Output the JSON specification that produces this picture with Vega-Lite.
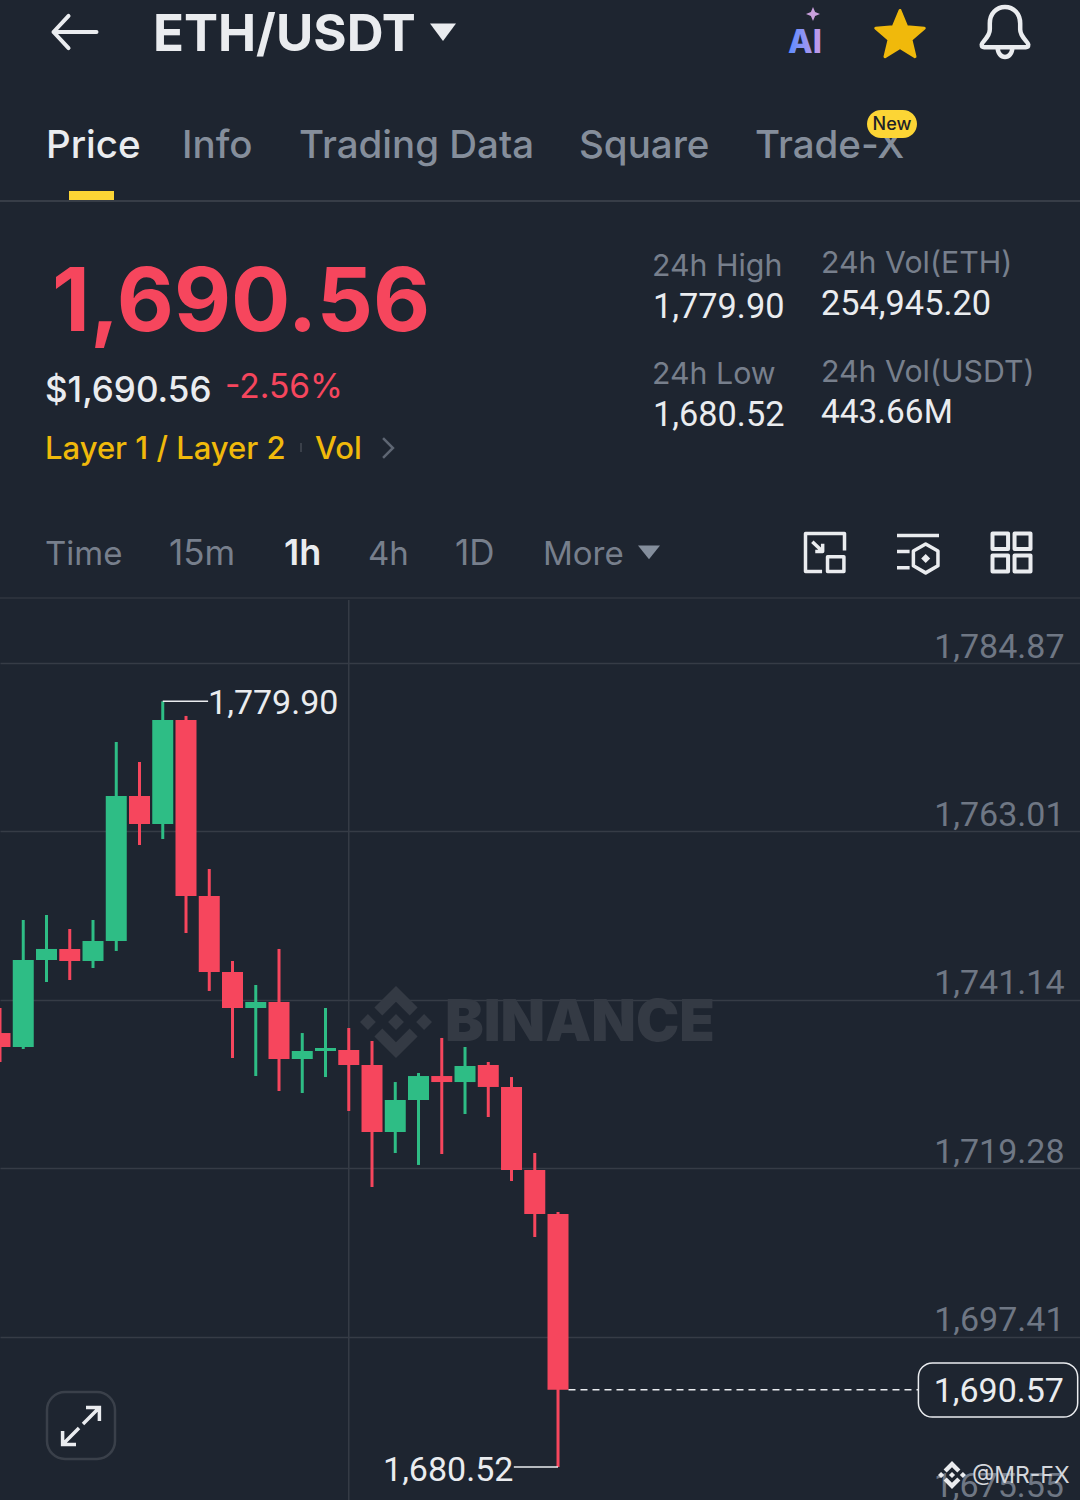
{
  "$schema": "https://vega.github.io/schema/vega-lite/v6.json",
  "width": 1080,
  "height": 1500,
  "padding": 0,
  "autosize": {"type": "none"},
  "background": "#1e2530",
  "datasets": {
    "candles": [
      {"i": 0, "open": 1736.85, "high": 1740.10, "low": 1733.09, "close": 1735.04, "side": "down"},
      {"i": 1, "open": 1735.04, "high": 1751.52, "low": 1734.78, "close": 1746.33, "side": "up"},
      {"i": 2, "open": 1746.33, "high": 1752.17, "low": 1743.47, "close": 1747.76, "side": "up"},
      {"i": 3, "open": 1747.76, "high": 1750.35, "low": 1743.73, "close": 1746.20, "side": "down"},
      {"i": 4, "open": 1746.20, "high": 1751.52, "low": 1745.29, "close": 1748.79, "side": "up"},
      {"i": 5, "open": 1748.79, "high": 1774.62, "low": 1747.50, "close": 1767.61, "side": "up"},
      {"i": 6, "open": 1767.61, "high": 1772.02, "low": 1761.25, "close": 1763.98, "side": "down"},
      {"i": 7, "open": 1763.98, "high": 1779.90, "low": 1762.03, "close": 1777.47, "side": "up"},
      {"i": 8, "open": 1777.47, "high": 1778.00, "low": 1749.83, "close": 1754.63, "side": "down"},
      {"i": 9, "open": 1754.63, "high": 1758.14, "low": 1742.31, "close": 1744.77, "side": "down"},
      {"i": 10, "open": 1744.77, "high": 1746.20, "low": 1733.61, "close": 1740.10, "side": "down"},
      {"i": 11, "open": 1740.10, "high": 1743.08, "low": 1731.27, "close": 1740.88, "side": "up"},
      {"i": 12, "open": 1740.88, "high": 1747.76, "low": 1729.33, "close": 1733.48, "side": "down"},
      {"i": 13, "open": 1733.48, "high": 1736.85, "low": 1729.07, "close": 1734.52, "side": "up"},
      {"i": 14, "open": 1734.52, "high": 1740.10, "low": 1731.14, "close": 1734.91, "side": "up"},
      {"i": 15, "open": 1734.65, "high": 1737.50, "low": 1726.73, "close": 1732.70, "side": "down"},
      {"i": 16, "open": 1732.70, "high": 1735.82, "low": 1716.87, "close": 1724.01, "side": "down"},
      {"i": 17, "open": 1724.01, "high": 1730.49, "low": 1721.28, "close": 1728.16, "side": "up"},
      {"i": 18, "open": 1728.16, "high": 1731.66, "low": 1719.73, "close": 1731.27, "side": "up"},
      {"i": 19, "open": 1731.27, "high": 1736.21, "low": 1721.15, "close": 1730.49, "side": "down"},
      {"i": 20, "open": 1730.49, "high": 1735.04, "low": 1726.34, "close": 1732.57, "side": "up"},
      {"i": 21, "open": 1732.70, "high": 1733.09, "low": 1725.95, "close": 1729.85, "side": "down"},
      {"i": 22, "open": 1729.85, "high": 1731.14, "low": 1717.65, "close": 1719.08, "side": "down"},
      {"i": 23, "open": 1719.08, "high": 1721.28, "low": 1710.38, "close": 1713.37, "side": "down"},
      {"i": 24, "open": 1713.37, "high": 1713.63, "low": 1680.52, "close": 1690.56, "side": "down"}
    ]
  },
  "data": {"name": "candles"},
  "layer": [
    {
      "data": {"values": [{"label": "BINANCE"}]},
      "mark": {"type": "text", "style": "wm", "fill": "#343a44", "x": 445, "y": 1041},
      "encoding": {"text": {"field": "label"}}
    },
    {
      "data": {"values": [{"icon": "logo"}]},
      "mark": {"type": "point", "x": 396, "y": 1022, "size": 5184, "filled": true, "fill": "#343a44", "opacity": 1, "strokeWidth": 0, "shape": "M0 -.22L.22 0L0 .22L-.22 0ZM-.78 -.22L-.56 0L-.78 .22L-1 0ZM.78 -.22L1 0L.78 .22L.56 0ZM0 -1L.6 -.4L.38 -.18L0 -.56L-.38 -.18L-.6 -.4ZM0 1L.6 .4L.38 .18L0 .56L-.38 .18L-.6 .4Z"}
    },
    {
      "data": {"values": [{"i": 15}]},
      "mark": {"type": "rule", "color": "#363c46", "strokeWidth": 1.5},
      "encoding": {
        "x": {
          "field": "i",
          "type": "quantitative",
          "scale": {"domain": [0, 46.45], "nice": false, "zero": false, "padding": 0},
          "axis": null
        },
        "y": {"value": 600},
        "y2": {"value": 1500}
      }
    },
    {
      "mark": {"type": "rule", "strokeWidth": 3, "clip": true},
      "encoding": {
        "x": {"field": "i", "type": "quantitative", "axis": null},
        "y": {
          "field": "high",
          "type": "quantitative",
          "scale": {"domain": [1676.25, 1870.91], "nice": false, "zero": false},
          "axis": {
            "orient": "right",
            "title": null,
            "values": [1784.87, 1763.01, 1741.14, 1719.28, 1697.41],
            "format": ",.2f",
            "grid": true,
            "gridColor": "#363c46",
            "gridWidth": 1.5,
            "domain": false,
            "ticks": false,
            "labelAlign": "right",
            "labelBaseline": "middle",
            "labelPadding": -16,
            "labelOffset": -16,
            "labelFont": "Roboto",
            "labelFontSize": 34,
            "labelColor": "#6f7784",
            "labelOverlap": false,
            "labelFlush": false
          }
        },
        "y2": {"field": "low"},
        "color": {
          "field": "side",
          "type": "nominal",
          "scale": {"domain": ["up", "down"], "range": ["#2ebd85", "#f6465d"]},
          "legend": null
        }
      }
    },
    {
      "mark": {"type": "bar", "size": 21, "clip": true},
      "encoding": {
        "x": {"field": "i", "type": "quantitative", "axis": null},
        "y": {"field": "open", "type": "quantitative"},
        "y2": {"field": "close"},
        "color": {"field": "side", "type": "nominal", "legend": null}
      }
    },
    {
      "data": {"values": [{"price": 1779.90, "from": 7, "to": 8.95}, {"price": 1680.52, "from": 22.1, "to": 24}]},
      "mark": {"type": "rule", "color": "#eaecef", "strokeWidth": 1.5},
      "encoding": {
        "x": {"field": "from", "type": "quantitative", "axis": null},
        "x2": {"field": "to"},
        "y": {"field": "price", "type": "quantitative"}
      }
    },
    {
      "data": {"values": [{"price": 1779.90, "at": 8.95, "label": "1,779.90"}]},
      "mark": {"type": "text", "style": "note", "fill": "#eaecef", "align": "left", "dy": 3},
      "encoding": {
        "x": {"field": "at", "type": "quantitative", "axis": null},
        "y": {"field": "price", "type": "quantitative"},
        "text": {"field": "label"}
      }
    },
    {
      "data": {"values": [{"price": 1680.52, "at": 22.08, "label": "1,680.52"}]},
      "mark": {"type": "text", "style": "note", "fill": "#eaecef", "align": "right", "dy": 4},
      "encoding": {
        "x": {"field": "at", "type": "quantitative", "axis": null},
        "y": {"field": "price", "type": "quantitative"},
        "text": {"field": "label"}
      }
    },
    {
      "data": {"values": [{"price": 1690.56, "from": 24.45, "to": 39.5}]},
      "mark": {"type": "rule", "color": "#eaecef", "strokeWidth": 1.5, "strokeDash": [7, 5]},
      "encoding": {
        "x": {"field": "from", "type": "quantitative", "axis": null},
        "x2": {"field": "to"},
        "y": {"field": "price", "type": "quantitative"}
      }
    },
    {
      "data": {"values": [{"top": 1694.03, "bottom": 1687.02, "from": 39.5, "to": 46.35}]},
      "mark": {"type": "rect", "fill": "#1e2530", "stroke": "#eaecef", "strokeWidth": 1.5, "cornerRadius": 14},
      "encoding": {
        "x": {"field": "from", "type": "quantitative", "axis": null},
        "x2": {"field": "to"},
        "y": {"field": "top", "type": "quantitative"},
        "y2": {"field": "bottom"}
      }
    },
    {
      "data": {"values": [{"price": 1690.57, "at": 45.76, "label": "1,690.57"}]},
      "mark": {"type": "text", "style": "note", "fill": "#eaecef", "align": "right", "dy": 2},
      "encoding": {
        "x": {"field": "at", "type": "quantitative", "axis": null},
        "y": {"field": "price", "type": "quantitative"},
        "text": {"field": "label"}
      }
    },
    {
      "data": {"values": [{"price": 1675.55, "at": 45.76, "label": "1,675.55"}]},
      "mark": {"type": "text", "style": "note", "fill": "#6f7784", "align": "right", "dy": -18},
      "encoding": {
        "x": {"field": "at", "type": "quantitative", "axis": null},
        "y": {"field": "price", "type": "quantitative"},
        "text": {"field": "label"}
      }
    },
    {
      "data": {"values": [{"icon": "logo small"}]},
      "mark": {"type": "point", "x": 952, "y": 1475, "size": 784, "filled": true, "fill": "#eaecef", "opacity": 1, "strokeWidth": 0, "shape": "M0 -.22L.22 0L0 .22L-.22 0ZM-.78 -.22L-.56 0L-.78 .22L-1 0ZM.78 -.22L1 0L.78 .22L.56 0ZM0 -1L.6 -.4L.38 -.18L0 -.56L-.38 -.18L-.6 -.4ZM0 1L.6 .4L.38 .18L0 .56L-.38 .18L-.6 .4Z"}
    },
    {
      "data": {"values": [{"label": "@MR-FX"}]},
      "mark": {"type": "text", "font": "Inter", "fontSize": 23, "fill": "#d4d7dc", "align": "left", "baseline": "alphabetic", "x": 972, "y": 1483},
      "encoding": {"text": {"field": "label"}}
    },
    {
      "data": {"values": [{"icon": "back"}]},
      "mark": {"type": "point", "x": 75, "y": 32, "size": 1849, "filled": false, "stroke": "#eaecef", "strokeWidth": 4, "strokeCap": "round", "strokeJoin": "round", "opacity": 1, "shape": "M1 0H-1M-.3 -.75L-1 0L-.3 .75"}
    },
    {
      "data": {"values": [{"label": "ETH/USDT"}]},
      "mark": {"type": "text", "font": "Inter", "fontSize": 51, "fontWeight": 700, "fill": "#eaecef", "align": "left", "baseline": "alphabetic", "x": 153, "y": 51},
      "encoding": {"text": {"field": "label"}}
    },
    {
      "data": {"values": [{"icon": "caret"}]},
      "mark": {"type": "point", "x": 443, "y": 32, "size": 676, "filled": true, "fill": "#eaecef", "opacity": 1, "strokeWidth": 0, "shape": "M-1 -.65H1L0 .7Z"}
    },
    {
      "data": {"values": [{"label": "AI"}]},
      "mark": {"type": "text", "font": "Inter", "fontSize": 32, "fontWeight": 800, "align": "left", "baseline": "alphabetic", "x": 788, "y": 53, "fill": {"gradient": "linear", "x1": 0, "x2": 1, "y1": 0, "y2": 0, "stops": [{"offset": 0, "color": "#5b8cff"}, {"offset": 1, "color": "#c79be8"}]}},
      "encoding": {"text": {"field": "label"}}
    },
    {
      "data": {"values": [{"icon": "sparkle"}]},
      "mark": {"type": "point", "x": 813, "y": 14, "size": 196, "filled": true, "fill": "#c9a0dc", "opacity": 1, "strokeWidth": 0, "shape": "M0 -1L.3 -.3L1 0L.3 .3L0 1L-.3 .3L-1 0L-.3 -.3Z"}
    },
    {
      "data": {"values": [{"icon": "star"}]},
      "mark": {"type": "point", "x": 900, "y": 36, "size": 2601, "filled": true, "fill": "#f0b90b", "stroke": "#f0b90b", "strokeWidth": 3, "strokeJoin": "round", "opacity": 1, "shape": "M0 -1L.2645 -.364L.951 -.309L.428 .139L.588 .809L0 .45L-.588 .809L-.428 .139L-.951 -.309L-.2645 -.364Z"}
    },
    {
      "data": {"values": [{"icon": "bell"}]},
      "mark": {"type": "point", "x": 1005, "y": 32, "size": 2401, "filled": false, "stroke": "#eaecef", "strokeWidth": 4.5, "strokeJoin": "round", "opacity": 1, "shape": "M-.95 .5C-.95 .42 -.62 .2 -.62 -.1V-.35C-.62 -.75 -.35 -1.02 0 -1.02C.35 -1.02 .62 -.75 .62 -.35V-.1C.62 .2 .95 .42 .95 .5C.95 .6 .9 .62 .85 .62H-.85C-.9 .62 -.95 .6 -.95 .5ZM-.3 .62C-.3 .88 -.15 1.02 0 1.02C.15 1.02 .3 .88 .3 .62"}
    },
    {
      "data": {"values": [{"label": "Price"}]},
      "mark": {"type": "text", "style": "tab", "x": 46, "y": 158, "fill": "#eaecef"},
      "encoding": {"text": {"field": "label"}}
    },
    {
      "data": {"values": [{"label": "Info"}]},
      "mark": {"type": "text", "style": "tab", "fill": "#858e9b", "x": 182, "y": 158},
      "encoding": {"text": {"field": "label"}}
    },
    {
      "data": {"values": [{"label": "Trading Data"}]},
      "mark": {"type": "text", "style": "tab", "fill": "#858e9b", "x": 299, "y": 158},
      "encoding": {"text": {"field": "label"}}
    },
    {
      "data": {"values": [{"label": "Square"}]},
      "mark": {"type": "text", "style": "tab", "fill": "#858e9b", "x": 579, "y": 158},
      "encoding": {"text": {"field": "label"}}
    },
    {
      "data": {"values": [{"label": "Trade-X"}]},
      "mark": {"type": "text", "style": "tab", "fill": "#858e9b", "x": 755, "y": 158},
      "encoding": {"text": {"field": "label"}}
    },
    {
      "data": {"values": [{"shape": "badge"}]},
      "mark": {"type": "rect", "fill": "#fcd535", "cornerRadius": 14},
      "encoding": {"x": {"value": 867}, "x2": {"value": 917}, "y": {"value": 110}, "y2": {"value": 138}}
    },
    {
      "data": {"values": [{"label": "New"}]},
      "mark": {"type": "text", "font": "Inter", "fontSize": 18, "fontWeight": 500, "fill": "#1e2329", "align": "center", "baseline": "middle", "x": 892, "y": 125},
      "encoding": {"text": {"field": "label"}}
    },
    {
      "data": {"values": [{"shape": "tab marker"}]},
      "mark": {"type": "rect", "fill": "#fcd535"},
      "encoding": {"x": {"value": 69}, "x2": {"value": 114}, "y": {"value": 191}, "y2": {"value": 200}}
    },
    {
      "data": {"values": [{"shape": "divider"}]},
      "mark": {"type": "rule", "color": "#373d47", "strokeWidth": 2},
      "encoding": {"x": {"value": 0}, "x2": {"value": 1080}, "y": {"value": 201}}
    },
    {
      "data": {"values": [{"label": "1,690.56"}]},
      "mark": {"type": "text", "font": "Inter", "fontSize": 88, "fontWeight": 700, "fill": "#f6465d", "align": "left", "baseline": "alphabetic", "x": 52, "y": 331},
      "encoding": {"text": {"field": "label"}}
    },
    {
      "data": {"values": [{"label": "$1,690.56"}]},
      "mark": {"type": "text", "font": "Inter", "fontSize": 35, "fontWeight": 500, "fill": "#eaecef", "align": "left", "baseline": "alphabetic", "x": 45, "y": 402},
      "encoding": {"text": {"field": "label"}}
    },
    {
      "data": {"values": [{"label": "-2.56%"}]},
      "mark": {"type": "text", "font": "Inter", "fontSize": 33.5, "fill": "#f6465d", "align": "left", "baseline": "alphabetic", "x": 225, "y": 398},
      "encoding": {"text": {"field": "label"}}
    },
    {
      "data": {"values": [{"label": "Layer 1 / Layer 2"}]},
      "mark": {"type": "text", "style": "tag", "fill": "#f0b90b", "x": 45, "y": 459},
      "encoding": {"text": {"field": "label"}}
    },
    {
      "data": {"values": [{"label": "Vol"}]},
      "mark": {"type": "text", "style": "tag", "fill": "#f0b90b", "x": 315, "y": 459},
      "encoding": {"text": {"field": "label"}}
    },
    {
      "data": {"values": [{"shape": "tag separator"}]},
      "mark": {"type": "rule", "color": "#3a404a", "strokeWidth": 2},
      "encoding": {"x": {"value": 301}, "y": {"value": 443}, "y2": {"value": 452}}
    },
    {
      "data": {"values": [{"icon": "chevron"}]},
      "mark": {"type": "point", "x": 388, "y": 448, "size": 484, "filled": false, "stroke": "#5e6673", "strokeWidth": 2.5, "opacity": 1, "shape": "M-.45 -.9L.45 0L-.45 .9"}
    },
    {
      "data": {"values": [{"label": "24h High"}]},
      "mark": {"type": "text", "style": "statLabel", "fill": "#777f8c", "x": 652, "y": 276},
      "encoding": {"text": {"field": "label"}}
    },
    {
      "data": {"values": [{"label": "1,779.90"}]},
      "mark": {"type": "text", "style": "statValue", "fill": "#eaecef", "x": 653, "y": 318},
      "encoding": {"text": {"field": "label"}}
    },
    {
      "data": {"values": [{"label": "24h Low"}]},
      "mark": {"type": "text", "style": "statLabel", "fill": "#777f8c", "x": 652, "y": 384},
      "encoding": {"text": {"field": "label"}}
    },
    {
      "data": {"values": [{"label": "1,680.52"}]},
      "mark": {"type": "text", "style": "statValue", "fill": "#eaecef", "x": 653, "y": 426},
      "encoding": {"text": {"field": "label"}}
    },
    {
      "data": {"values": [{"label": "24h Vol(ETH)"}]},
      "mark": {"type": "text", "style": "statLabel", "fill": "#777f8c", "x": 821, "y": 273},
      "encoding": {"text": {"field": "label"}}
    },
    {
      "data": {"values": [{"label": "254,945.20"}]},
      "mark": {"type": "text", "style": "statValue", "fill": "#eaecef", "x": 821, "y": 315},
      "encoding": {"text": {"field": "label"}}
    },
    {
      "data": {"values": [{"label": "24h Vol(USDT)"}]},
      "mark": {"type": "text", "style": "statLabel", "fill": "#777f8c", "x": 821, "y": 382},
      "encoding": {"text": {"field": "label"}}
    },
    {
      "data": {"values": [{"label": "443.66M"}]},
      "mark": {"type": "text", "style": "statValue", "fill": "#eaecef", "fontSize": 33.4, "x": 821, "y": 423},
      "encoding": {"text": {"field": "label"}}
    },
    {
      "data": {"values": [{"label": "Time"}]},
      "mark": {"type": "text", "style": "interval", "fill": "#777f8c", "x": 45, "y": 565},
      "encoding": {"text": {"field": "label"}}
    },
    {
      "data": {"values": [{"label": "15m"}]},
      "mark": {"type": "text", "style": "interval", "fill": "#777f8c", "fontSize": 35, "x": 169, "y": 565},
      "encoding": {"text": {"field": "label"}}
    },
    {
      "data": {"values": [{"label": "1h"}]},
      "mark": {"type": "text", "style": "interval", "x": 284, "y": 565, "fill": "#eaecef", "fontSize": 36, "fontWeight": 600},
      "encoding": {"text": {"field": "label"}}
    },
    {
      "data": {"values": [{"label": "4h"}]},
      "mark": {"type": "text", "style": "interval", "fill": "#777f8c", "x": 368, "y": 565},
      "encoding": {"text": {"field": "label"}}
    },
    {
      "data": {"values": [{"label": "1D"}]},
      "mark": {"type": "text", "style": "interval", "fill": "#777f8c", "fontSize": 35, "x": 455, "y": 565},
      "encoding": {"text": {"field": "label"}}
    },
    {
      "data": {"values": [{"label": "More"}]},
      "mark": {"type": "text", "style": "interval", "fill": "#777f8c", "x": 543, "y": 565},
      "encoding": {"text": {"field": "label"}}
    },
    {
      "data": {"values": [{"icon": "more caret"}]},
      "mark": {"type": "point", "x": 649, "y": 552, "size": 484, "filled": true, "fill": "#848e9c", "opacity": 1, "strokeWidth": 0, "shape": "M-1 -.6H1L0 .65Z"}
    },
    {
      "data": {"values": [{"icon": "fit"}]},
      "mark": {"type": "point", "x": 825, "y": 552.5, "size": 1521, "filled": false, "stroke": "#eaecef", "strokeWidth": 3.5, "strokeJoin": "round", "opacity": 1, "shape": "M-.15 .97H-1V-.97H1V-.1M.13 .22H.97V.97H.13ZM-.65 -.55L-.12 -.05M-.5 -.05H-.12V-.45"}
    },
    {
      "data": {"values": [{"icon": "indicators"}]},
      "mark": {"type": "point", "x": 918, "y": 552.5, "size": 1764, "filled": false, "stroke": "#eaecef", "strokeWidth": 3.5, "strokeJoin": "round", "opacity": 1, "shape": "M-1 -.81H1M-1 -.05H-.4M-1 .73H-.4M.365 -.4L.95 -.07V.63L.365 .97L-.22 .63V-.07Z"}
    },
    {
      "data": {"values": [{"icon": "indicators dot"}]},
      "mark": {"type": "point", "x": 925.7, "y": 558.5, "size": 81, "filled": true, "fill": "#eaecef", "opacity": 1, "strokeWidth": 0, "shape": "diamond"}
    },
    {
      "data": {"values": [{"icon": "grid"}]},
      "mark": {"type": "point", "x": 1011.5, "y": 552.5, "size": 1444, "filled": false, "stroke": "#eaecef", "strokeWidth": 4, "strokeJoin": "round", "opacity": 1, "shape": "M-1 -1H-.18V-.18H-1ZM.16 -1H1V-.18H.16ZM-1 .16H-.18V1H-1ZM.16 .16H1V1H.16Z"}
    },
    {
      "data": {"values": [{"shape": "divider"}]},
      "mark": {"type": "rule", "color": "#2b313b", "strokeWidth": 2},
      "encoding": {"x": {"value": 0}, "x2": {"value": 1080}, "y": {"value": 598}}
    },
    {
      "data": {"values": [{"shape": "expand button"}]},
      "mark": {"type": "rect", "fill": "#1e2530", "stroke": "#3a404a", "strokeWidth": 2.5, "cornerRadius": 18},
      "encoding": {"x": {"value": 47}, "x2": {"value": 115}, "y": {"value": 1392}, "y2": {"value": 1459}}
    },
    {
      "data": {"values": [{"icon": "expand"}]},
      "mark": {"type": "point", "x": 81, "y": 1426, "size": 1600, "filled": false, "stroke": "#eaecef", "strokeWidth": 3.5, "opacity": 1, "shape": "M.1 -.1L.92 -.92M.25 -.92H.92V-.25M-.1 .1L-.92 .92M-.92 .25V.92H-.25"}
    }
  ],
  "config": {
    "view": {"stroke": null},
    "style": {
      "tab": {"font": "Inter", "fontSize": 38.5, "fontWeight": 500, "align": "left", "baseline": "alphabetic"},
      "tag": {"font": "Inter", "fontSize": 31, "fontWeight": 500, "align": "left", "baseline": "alphabetic"},
      "statLabel": {"font": "Inter", "fontSize": 30.3, "align": "left", "baseline": "alphabetic"},
      "statValue": {"font": "Roboto", "fontSize": 34.3, "align": "left", "baseline": "alphabetic"},
      "interval": {"font": "Inter", "fontSize": 33, "align": "left", "baseline": "alphabetic"},
      "note": {"font": "Roboto", "fontSize": 34, "baseline": "middle"},
      "wm": {"font": "Inter", "fontSize": 58, "fontWeight": 900, "align": "left", "baseline": "alphabetic"}
    }
  }
}
